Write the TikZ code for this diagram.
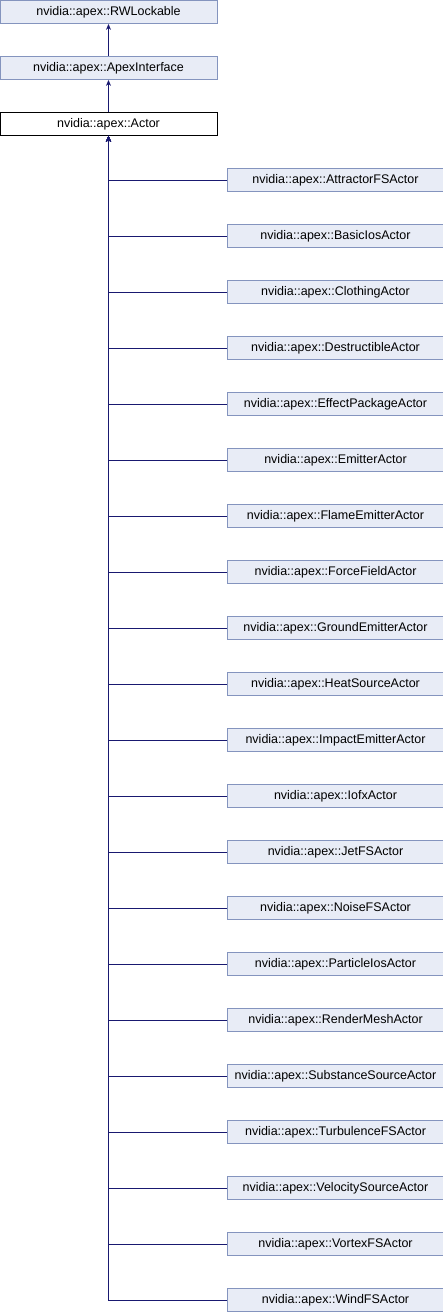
\documentclass[tikz,border=0pt]{standalone}
\usepackage{fontspec}
\setmainfont{Liberation Sans}
\usetikzlibrary{arrows.meta}
\definecolor{boxfill}{RGB}{232,236,246}
\definecolor{boxdraw}{RGB}{132,148,190}
\definecolor{edge}{RGB}{25,25,112}
\begin{document}
\begin{tikzpicture}[x=1pt,y=-1pt,
  cls/.style={draw=boxdraw,fill=boxfill,line width=0.8pt,minimum height=23pt,inner sep=0pt,font=\fontsize{12.5}{13}\selectfont},
  top/.style={cls,minimum width=217pt},
  cur/.style={top,draw=black,fill=white},
  child/.style={cls,minimum width=216pt},
  inh/.style={draw=edge,line width=0.9pt,-{Stealth[length=6pt,width=5pt]}}]
\useasboundingbox (0,0) rectangle (442,1312);
\node[top] (rw) at (108.5,12) {nvidia::apex::RWLockable};
\node[top] (ai) at (108.5,68) {nvidia::apex::ApexInterface};
\node[cur] (actor) at (108.5,124) {nvidia::apex::Actor};
\draw[inh] (ai) -- (rw);
\draw[inh] (actor) -- (ai);
\foreach \n [count=\k from 0] in {AttractorFSActor,BasicIosActor,ClothingActor,DestructibleActor,EffectPackageActor,EmitterActor,FlameEmitterActor,ForceFieldActor,GroundEmitterActor,HeatSourceActor,ImpactEmitterActor,IofxActor,JetFSActor,NoiseFSActor,ParticleIosActor,RenderMeshActor,SubstanceSourceActor,TurbulenceFSActor,VelocitySourceActor,VortexFSActor,WindFSActor}{
  \node[child] (c\k) at (335.5,{180+56*\k}) {nvidia::apex::\n};
  \draw[inh] (c\k.west) -| (actor.south);
}
\end{tikzpicture}
\end{document}
